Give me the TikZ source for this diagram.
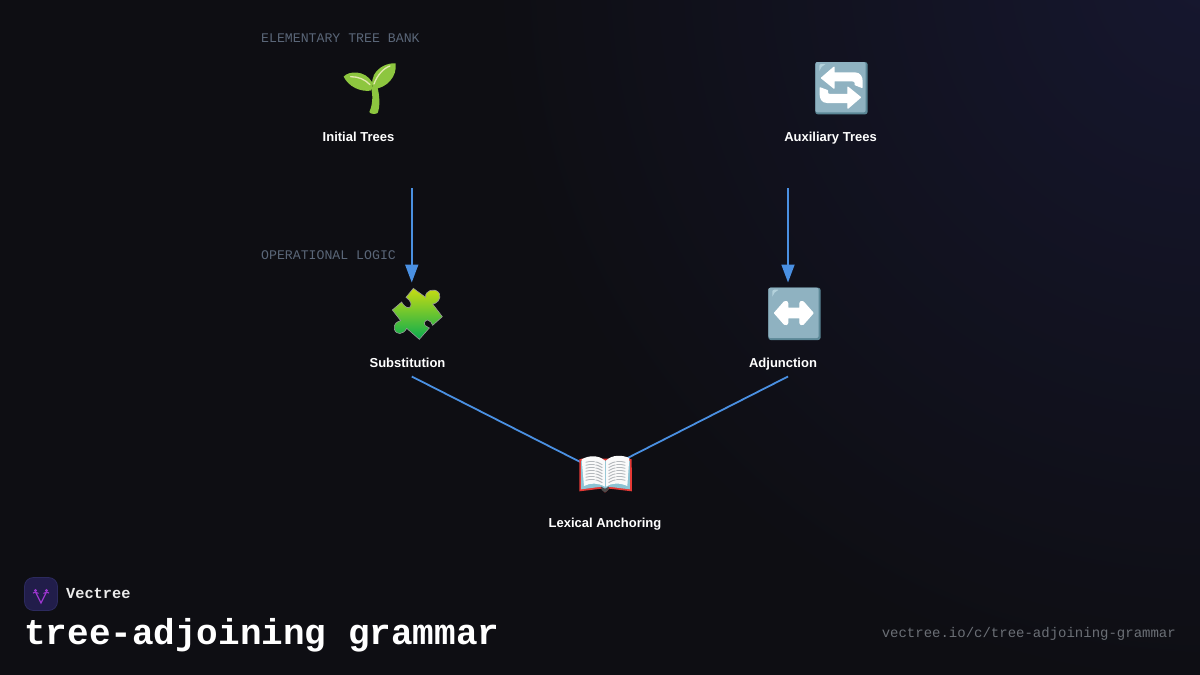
\documentclass[tikz,border=0pt]{standalone}
\usepackage{fontspec}
\setmainfont{Liberation Sans}
\setmonofont{Liberation Mono}
\usetikzlibrary{arrows.meta}
\definecolor{bgbase}{HTML}{0E0E13}
\definecolor{bgglow}{HTML}{16172F}
\definecolor{edgeblue}{HTML}{4A90E2}
\definecolor{sectext}{HTML}{5A6678}
\definecolor{urltext}{HTML}{6B6F76}
\definecolor{keyface}{HTML}{8FB2C1}
\definecolor{keyedge}{HTML}{5B8796}
\definecolor{keyhi}{HTML}{B4D2DC}
\definecolor{leaf}{HTML}{8DC63F}
\definecolor{leafvein}{HTML}{E4E9B0}
\definecolor{logobg}{HTML}{211D4A}
\definecolor{logoedge}{HTML}{2C2A5E}
\definecolor{logoink}{HTML}{9A35CC}
\definecolor{bookred}{HTML}{E53935}
\definecolor{bookblue}{HTML}{8CC3D3}
\definecolor{bookline}{HTML}{B4B8BC}
\tikzset{
  edgeline/.style={draw=edgeblue,line width=1.8pt},
  edgearrow/.style={edgeline,-{Triangle[length=18pt,width=13pt,fill=edgeblue]}},
  seclabel/.style={anchor=base west,text=sectext,font=\fontsize{13.2}{15}\selectfont\ttfamily,inner sep=0pt},
  nodelabel/.style={anchor=base,text=white,font=\fontsize{13}{15}\selectfont\bfseries,inner sep=0pt},
  zoomed/.style={x=0.3333pt,y=-0.3333pt},
  keyglyph/.style={fill=white,draw=white,line width=1.4pt,line join=round},
}
\newcommand{\keycap}{%
  \fill[keyedge,rounded corners=2.5pt] (0,0) rectangle (157,157);
  \fill[keyface,rounded corners=2pt] (0,0) rectangle (151,151);
  \fill[keyhi,rounded corners=2pt] (12,6) -- (34,6) .. controls (22,10) and (15,18) .. (12,30) -- cycle;
}
\begin{document}
\begin{tikzpicture}[x=1pt,y=-1pt]
\useasboundingbox (0,0) rectangle (1200,675);
\fill[bgbase] (0,0) rectangle (1200,675);
\begin{scope}
  \clip (0,0) rectangle (1200,675);
  \shade[inner color=bgglow,outer color=bgbase] (1210,-30) circle (720);
\end{scope}

% connector ends
\coordinate (initialout) at (411.75,188);
\coordinate (substin) at (411.75,282.5);
\coordinate (auxout) at (788,188);
\coordinate (adjin) at (788,282.5);
\coordinate (substout) at (411.75,376.5);
\coordinate (adjout) at (788,376.5);
\coordinate (lexin) at (600,472);

\draw[edgearrow] (initialout) -- (substin);
\draw[edgearrow] (auxout) -- (adjin);
\draw[edgeline] (substout) -- (lexin);
\draw[edgeline] (adjout) -- (lexin);

% section labels
\node[seclabel] (secbank) at (261,42) {ELEMENTARY TREE BANK};
\node[seclabel] (seclogic) at (261,259) {OPERATIONAL LOGIC};

% sprout
\begin{scope}[shift={(250,20)},zoomed]
  \fill[leaf] (362,200) .. controls (370,225) and (368,255) .. (358,276)
     .. controls (360,283) and (378,283) .. (383,279)
     .. controls (390,262) and (390,230) .. (382,200) -- cycle;
  \fill[leaf] (281,170) .. controls (296,152) and (345,150) .. (366,186)
     .. controls (368,196) and (367,205) .. (362,212)
     .. controls (330,216) and (296,200) .. (281,170) -- cycle;
  \fill[leaf] (437,130) .. controls (442,170) and (410,204) .. (372,207)
     .. controls (364,200) and (364,185) .. (372,165)
     .. controls (385,140) and (415,128) .. (437,130) -- cycle;
  \draw[leafvein,line width=1.3pt,line cap=round] (302,170) .. controls (325,170) and (345,178) .. (360,194);
  \draw[leafvein,line width=1.3pt,line cap=round] (420,138) .. controls (400,145) and (382,165) .. (372,192);
\end{scope}

% repeat key
\begin{scope}[shift={(815.3,62)},zoomed]
  \keycap
  \path[keyglyph] (19,48) -- (56,16) -- (56,33) -- (118,33)
     .. controls (134,33) and (140,45) .. (140,58) -- (140,76) -- (120,68) -- (120,62)
     .. controls (120,58) and (115,56) .. (110,56) -- (56,56) -- (56,78) -- cycle;
  \path[keyglyph] (135,106) -- (98,138) -- (98,121) -- (36,121)
     .. controls (20,121) and (15,109) .. (15,96) -- (15,78) -- (36,86) -- (36,92)
     .. controls (36,96) and (40,98) .. (44,98) -- (98,98) -- (98,76) -- cycle;
\end{scope}

% puzzle piece
\begin{scope}[shift={(360,260)},zoomed]
  \shade[draw=gray!80!white,line width=0.6pt,
     top color={rgb,255:red,205;green,222;blue,16},bottom color={rgb,255:red,10;green,172;blue,80}]
   (160,85) -- (197,112) .. controls (193,92) and (225,80) .. (238,100)
     .. controls (246,118) and (228,132) .. (218,132)
     -- (247,170) -- (218,196) .. controls (214,188) and (212,182) .. (203,180)
     .. controls (194,180) and (190,192) .. (196,197) .. controls (200,200) and (204,200) .. (208,204)
     -- (178,238) -- (140,205) .. controls (130,225) and (108,226) .. (103,207)
     .. controls (100,192) and (112,184) .. (122,182)
     -- (97,150) -- (125,126) .. controls (130,136) and (140,146) .. (149,142)
     .. controls (158,134) and (152,122) .. (138,112) -- cycle;
\end{scope}

% left-right key
\begin{scope}[shift={(768.3,287.7)},zoomed]
  \keycap
  \path[keyglyph] (19,76) -- (48,43) .. controls (54,39) and (58,43) .. (58,47) -- (58,62)
     -- (95,62) -- (95,47) .. controls (95,43) and (100,39) .. (105,43)
     -- (134,76) -- (105,109) .. controls (100,113) and (95,109) .. (95,105) -- (95,90)
     -- (58,90) -- (58,105) .. controls (58,109) and (54,113) .. (48,109) -- cycle;
\end{scope}

% book
\begin{scope}[shift={(540,430)},zoomed]
  \fill[bookred] (118,88) -- (125,86) -- (268,86) -- (275,88) -- (276,184) -- (208,176) -- (195,188) -- (184,176) -- (118,184) -- cycle;
  \fill[bookblue] (123,92) -- (123,178) -- (185,170) -- (195,180) -- (205,170) -- (270,178) -- (270,92) -- cycle;
  \fill[gray!60!black] (183,170) -- (195,176) -- (207,170) -- (205,180) -- (195,187) -- (185,180) -- cycle;
  \fill[white!96!gray] (125,88) .. controls (145,76) and (175,74) .. (195,92) -- (195,170) .. controls (175,158) and (150,158) .. (132,168) -- cycle;
  \fill[white!96!gray] (268,84) .. controls (245,74) and (215,74) .. (198,92) -- (198,170) .. controls (215,158) and (240,158) .. (262,168) -- cycle;
  \foreach \k in {0,...,6}{
    \draw[bookline,line width=0.9pt,dash pattern=on 9pt off 1pt] (137,{97+9*\k}) .. controls (152,{92+9*\k}) and (170,{93+9*\k}) .. (187,{104+9*\k});
    \draw[bookline,line width=0.9pt,dash pattern=on 9pt off 1pt] (256,{97+9*\k}) .. controls (240,{92+9*\k}) and (222,{93+9*\k}) .. (206,{104+9*\k});
  }
\end{scope}

% node labels
\node[nodelabel] (initial) at (358.5,141) {Initial Trees};
\node[nodelabel] (aux) at (830.5,141) {Auxiliary Trees};
\node[nodelabel] (subst) at (407.5,367) {Substitution};
\node[nodelabel] (adj) at (783,367) {Adjunction};
\node[nodelabel] (lex) at (605,527) {Lexical Anchoring};

% logo
\filldraw[fill=logobg,draw=logoedge,line width=0.8pt,rounded corners=9pt] (24.5,577.5) rectangle (57.5,610.5);
\coordinate (lapex) at (41,603);
\coordinate (lleft) at (35.5,592);
\coordinate (lright) at (46.5,592);
\draw[logoink,line width=1.3pt] (lleft) -- (lapex) -- (lright);
\draw[logoink,line width=1.1pt] (lleft) -- ++(-2.5,1) (lleft) -- ++(3,1.5) (lright) -- ++(2.5,1) (lright) -- ++(-3,1.5);
\fill[logoink] (lleft) ++(0,-1.5) circle (1.7);
\fill[logoink] (lright) ++(0,-1.5) circle (1.7);

% footer
\node[anchor=base west,inner sep=0pt,text=white!92!black,font=\fontsize{15.3}{18}\selectfont\ttfamily\bfseries] (brand) at (66,598) {Vectree};
\node[anchor=base west,inner sep=0pt,text=white,font=\fontsize{36}{40}\selectfont\ttfamily\bfseries] (title) at (24,644.5) {tree-adjoining grammar};
\node[anchor=base east,inner sep=0pt,text=urltext,font=\fontsize{14}{16}\selectfont\ttfamily] (url) at (1176,637) {vectree.io/c/tree-adjoining-grammar};
\end{tikzpicture}
\end{document}
